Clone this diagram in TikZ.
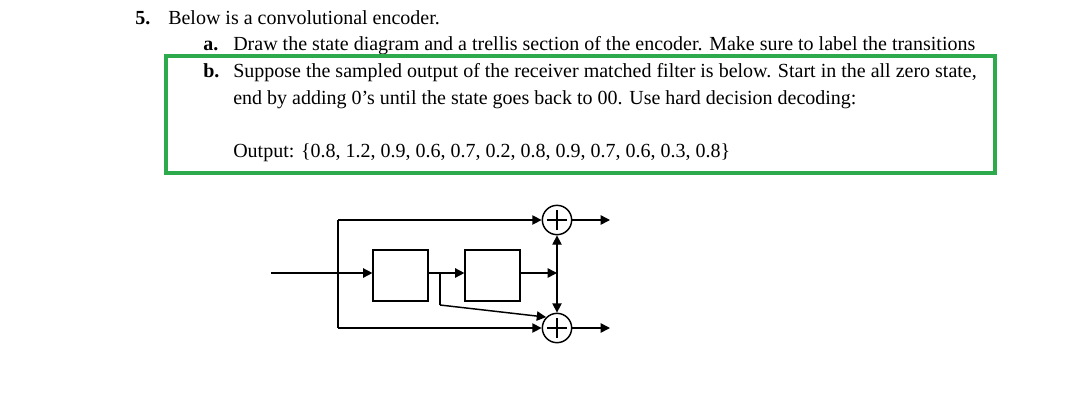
\documentclass[tikz,border=0pt]{standalone}
\usepackage{fontspec}
\setmainfont{Liberation Serif}
\usetikzlibrary{arrows.meta}
\definecolor{boxgreen}{RGB}{45,170,75}
\begin{document}
\begin{tikzpicture}[x=0.75pt,y=-0.75pt,
  txt/.style={anchor=base west,inner sep=0pt,font=\fontsize{15}{18}\selectfont},
  ln/.style={line width=1.1pt},
  arr/.style={ln,-{Triangle[length=7pt,width=7pt]}},
  reg/.style={draw,line width=1.1pt,minimum width=41pt,minimum height=38pt,inner sep=0pt},
  add/.style={draw,circle,line width=1.1pt,minimum size=22pt,inner sep=0pt}]
\useasboundingbox (0,0) rectangle (1080,404);
\node[txt] (n5) at (135,24) {\textbf{5.}};
\node[txt] (t1) at (168,24) {Below is a convolutional encoder.};
\node[txt] (na) at (203,50) {\textbf{a.}};
\node[txt] (ta) at (233,50) {Draw the state diagram and a trellis section of the encoder. Make sure to label the transitions};
\node[txt] (nb) at (203,77) {\textbf{b.}};
\node[txt] (tb) at (233,77) {Suppose the sampled output of the receiver matched filter is below. Start in the all zero state,};
\node[txt] (tc) at (233,104) {end by adding 0’s until the state goes back to 00. Use hard decision decoding:};
\node[txt] (td) at (233,157) {Output: \{0.8, 1.2, 0.9, 0.6, 0.7, 0.2, 0.8, 0.9, 0.7, 0.6, 0.3, 0.8\}};
\draw[boxgreen,line width=3pt] (166,56) rectangle (995,173);
% encoder
\node[reg] (r1) at (400.5,275.5) {};
\node[reg] (r2) at (492.5,275.5) {};
\node[add] (a1) at (557,220) {};
\node[add] (a2) at (557,328) {};
\foreach \a in {a1,a2}{
  \draw[line width=0.9pt] ([xshift=-7.5pt]\a.center) -- ([xshift=7.5pt]\a.center);
  \draw[line width=0.9pt] ([yshift=-7.5pt]\a.center) -- ([yshift=7.5pt]\a.center);}
\coordinate (in) at (271,273);
\coordinate (s) at (338,273);
\coordinate (st) at (338,220);
\coordinate (sb) at (338,328);
\coordinate (b) at (440,273);
\coordinate (bd) at (440,305);
\coordinate (j) at (557,273);
\coordinate (o1) at (610,220);
\coordinate (o2) at (610,328);
\draw[arr] (in) -- (r1.west |- in);
\draw[ln] (st) -- (sb);
\draw[arr] (st) -- (a1.west);
\draw[arr] (sb) -- (a2.west);
\draw[arr] (r1.east |- in) -- (r2.west |- in);
\draw[ln] (b) -- (bd);
\draw[arr] (bd) -- (a2.north west);
\draw[arr] (r2.east |- in) -- (j);
\draw[arr] (j) -- (a1.south);
\draw[arr] (j) -- (a2.north);
\draw[arr] (a1.east) -- (o1);
\draw[arr] (a2.east) -- (o2);
\end{tikzpicture}
\end{document}
